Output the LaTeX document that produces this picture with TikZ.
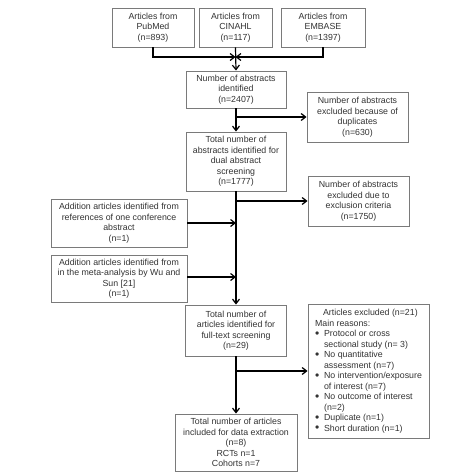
\documentclass[tikz,border=0pt]{standalone}
\usepackage{fontspec}
\setmainfont{Liberation Sans}
\usetikzlibrary{arrows.meta,calc}
\definecolor{boxline}{HTML}{7A7A7A}
\definecolor{boxtext}{HTML}{333333}
\newcommand{\bulitem}[1]{\makebox[9pt][l]{\raisebox{-0.6pt}{\fontsize{12}{10}\selectfont\textbullet}}#1}
\newcommand{\bulcont}[1]{\hspace*{9pt}#1}
\begin{document}
\begin{tikzpicture}[x=1pt,y=-1pt,
  flowbox/.style={draw=boxline,line width=0.9pt,text=boxtext,align=center,inner sep=0pt,
    font=\fontsize{8.8}{10.5}\selectfont},
  conn/.style={line width=1.2pt,black},
  arr/.style={conn,-{Straight Barb[length=4.5pt,width=7pt,line width=1.2pt]}}]
\useasboundingbox (0,0) rectangle (474,474);
\fill[white] (0,0) rectangle (474,474);

\node[flowbox,minimum width=82pt,minimum height=39pt] (pub) at (153,27.5) {Articles from\\PubMed\\(n=893)};
\node[flowbox,minimum width=73pt,minimum height=39pt] (cin) at (235.5,27.5) {Articles from\\CINAHL\\(n=117)};
\node[flowbox,minimum width=84pt,minimum height=39pt] (emb) at (323,27.5) {Articles from\\EMBASE\\(n=1397)};

\node[flowbox,minimum width=100pt,minimum height=37pt] (abs) at (236,89.5) {Number of abstracts\\identified\\(n=2407)};
\node[flowbox,minimum width=101pt,minimum height=50pt] (dup) at (357.5,117) {Number of abstracts\\excluded because of\\duplicates\\(n=630)};
\node[flowbox,minimum width=100pt,minimum height=59pt] (tot) at (236,161.5) {Total number of\\abstracts identified for\\dual abstract\\screening\\(n=1777)};
\node[flowbox,minimum width=101pt,minimum height=50pt] (excl) at (358.5,201) {Number of abstracts\\excluded due to\\exclusion criteria\\(n=1750)};
\node[flowbox,minimum width=136pt,minimum height=48pt] (conf) at (119,223) {Addition articles identified from\\references of one conference\\abstract\\(n=1)};
\node[flowbox,minimum width=136pt,minimum height=47pt] (wu) at (119,278.5) {Addition articles identified from\\in the meta-analysis by Wu and\\Sun [21]\\(n=1)};
\node[flowbox,minimum width=101pt,minimum height=51pt] (full) at (236,330.5) {Total number of\\articles identified for\\full-text screening\\(n=29)};
\node[flowbox,minimum width=121pt,minimum height=134pt,align=left] (art) at (368.5,371) {\hspace*{8pt}Articles excluded (n=21)\\
Main reasons:\\
\bulitem{Protocol or cross}\\
\bulcont{sectional study (n= 3)}\\
\bulitem{No quantitative}\\
\bulcont{assessment (n=7)}\\
\bulitem{No intervention/exposure}\\
\bulcont{of interest (n=7)}\\
\bulitem{No outcome of interest}\\
\bulcont{(n=2)}\\
\bulitem{Duplicate (n=1)}\\
\bulitem{Short duration (n=1)}};
\node[flowbox,minimum width=122pt,minimum height=57pt] (fin) at (236,442.5) {Total number of articles\\included for data extraction\\(n=8)\\RCTs n=1\\Cohorts n=7};

% merge of the three sources
\coordinate (mrg) at (cin.south |- 0,57);
\draw[arr] (pub.south) |- (mrg);
\draw[arr] (emb.south) |- (mrg);
\draw[arr] (cin.south) -- (abs.north);

% main flow
\draw[arr] (abs.south) -- (tot.north);
\draw[arr] (abs.south |- dup.west) -- (dup.west);
\draw[arr] (tot.south) -- (full.north);
\draw[arr] (tot.south |- excl.west) -- (excl.west);
\draw[arr] (conf.east) -- (conf.east -| tot.south);
\coordinate (wuin) at (wu.east |- 0,277);
\draw[arr] (wuin) -- (wuin -| tot.south);
\draw[arr] (full.south) -- (fin.north);
\draw[arr] (full.south |- art.west) -- (art.west);
\end{tikzpicture}
\end{document}
